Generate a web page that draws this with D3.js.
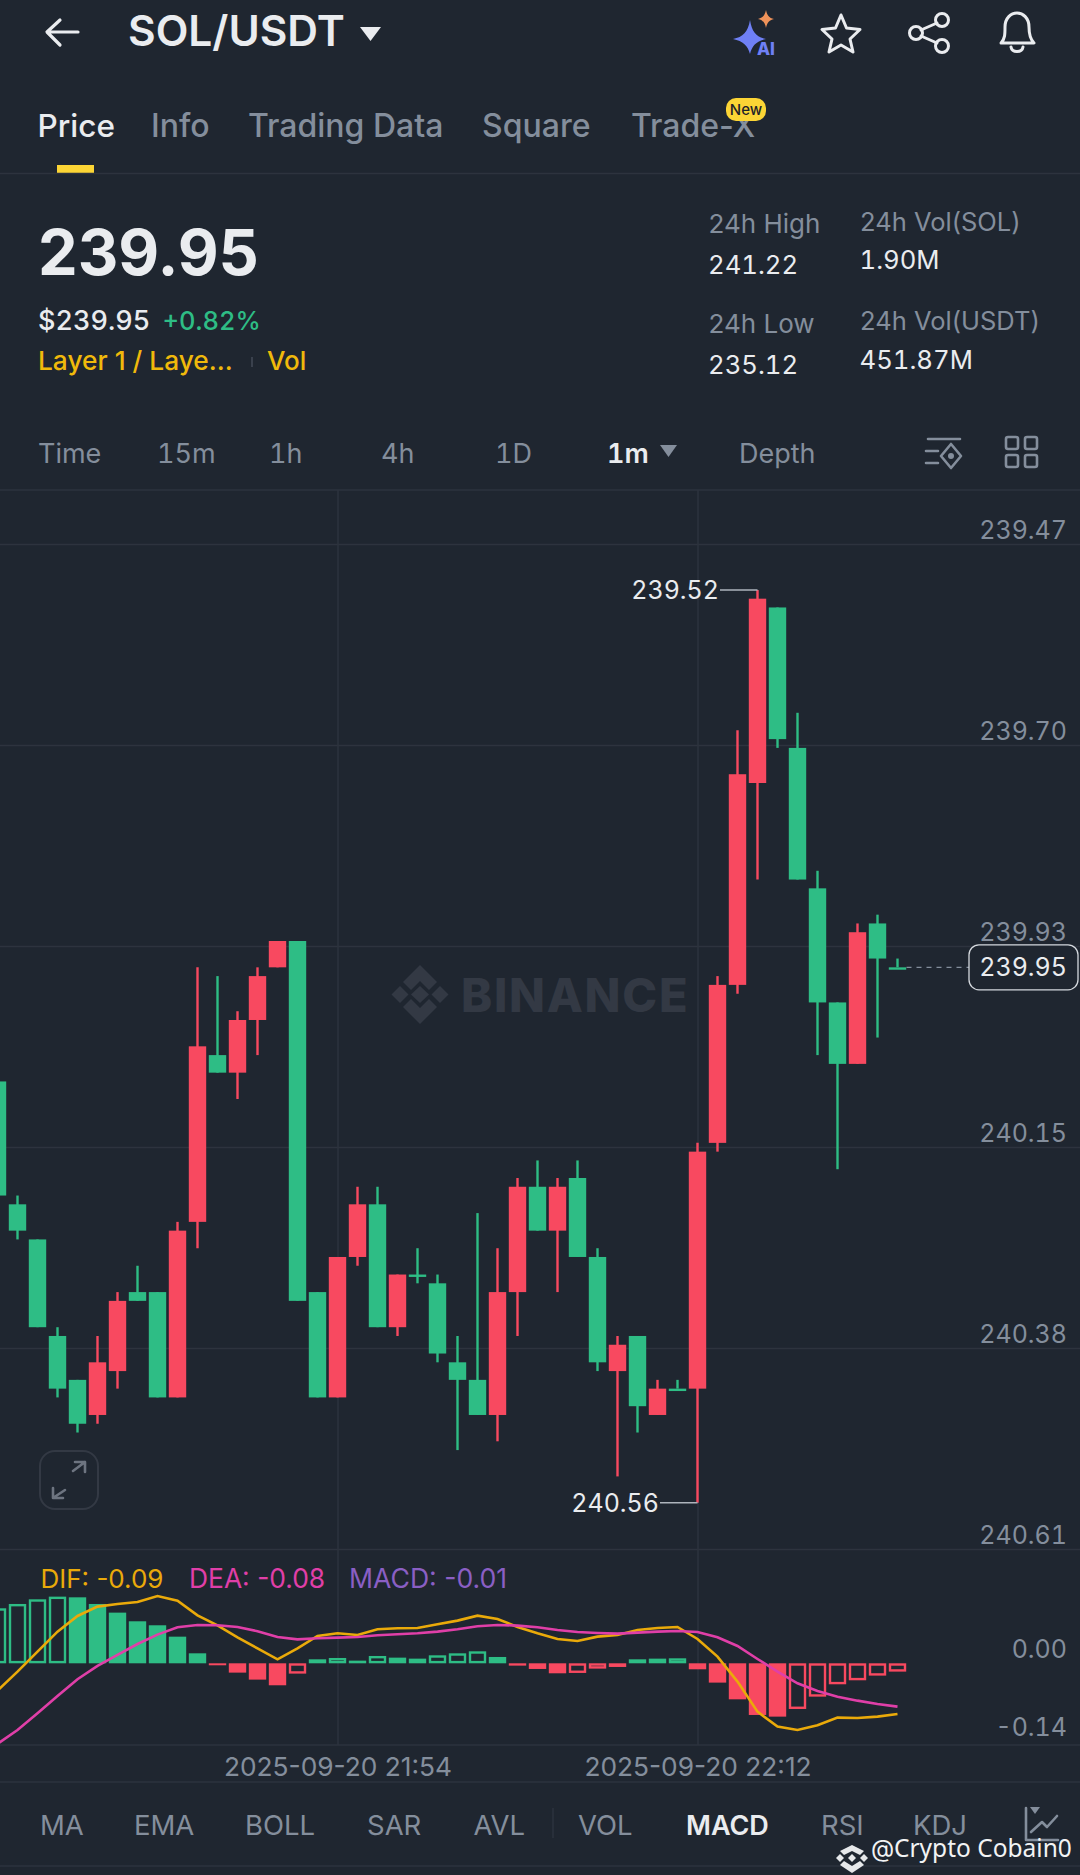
<!DOCTYPE html>
<html>
<head>
<meta charset="utf-8">
<script src="https://cdn.jsdelivr.net/npm/d3@7"></script>
<style>
  html, body { margin: 0; padding: 0; background: #1f2630; }
  svg { display: block; }
  text { font-family: Inter, "Noto Sans", sans-serif; }
  .num, .num text { font-variant-numeric: tabular-nums; }
</style>
</head>
<body>
<div id="chart"></div>
<script>
// one minute candles, 21:37 to 22:22. the price axis of this chart runs upside down
const opens = [240.08, 240.22, 240.26, 240.37, 240.42, 240.46, 240.41, 240.32, 240.32, 240.44, 240.24, 240.05,
  240.07, 240.01, 239.95, 239.92, 240.32, 240.44, 240.28, 240.22, 240.36, 240.30, 240.31, 240.40, 240.42, 240.46,
  240.32, 240.20, 240.25, 240.19, 240.28, 240.41, 240.37, 240.46, 240.43, 240.43, 240.15, 239.97, 239.74, 239.54,
  239.70, 239.86, 239.99, 240.06, 239.90, 239.95];
const closes = [240.21, 240.25, 240.36, 240.43, 240.47, 240.40, 240.33, 240.33, 240.44, 240.25, 240.04, 240.07,
  240.01, 239.96, 239.92, 240.33, 240.44, 240.28, 240.22, 240.36, 240.30, 240.30, 240.39, 240.42, 240.46, 240.32,
  240.20, 240.25, 240.20, 240.28, 240.40, 240.38, 240.45, 240.43, 240.43, 240.16, 239.97, 239.73, 239.53, 239.69,
  239.85, 239.99, 240.06, 239.91, 239.94, 239.95];
const lows = [240.08, 240.21, 240.26, 240.36, 240.42, 240.37, 240.32, 240.29, 240.32, 240.24, 239.95, 239.96,
  240.00, 239.95, 239.92, 239.92, 240.32, 240.28, 240.20, 240.20, 240.30, 240.27, 240.30, 240.37, 240.23, 240.27,
  240.19, 240.17, 240.19, 240.17, 240.27, 240.37, 240.37, 240.42, 240.42, 240.15, 239.96, 239.68, 239.52, 239.54,
  239.66, 239.84, 239.99, 239.90, 239.89, 239.94];
const highs = [240.21, 240.26, 240.36, 240.44, 240.48, 240.47, 240.43, 240.33, 240.44, 240.44, 240.27, 240.07,
  240.10, 240.05, 239.95, 240.33, 240.44, 240.44, 240.29, 240.36, 240.37, 240.31, 240.40, 240.50, 240.46, 240.49,
  240.37, 240.25, 240.32, 240.28, 240.41, 240.53, 240.48, 240.46, 240.43, 240.56, 240.16, 239.98, 239.85, 239.70,
  239.85, 240.05, 240.18, 240.06, 240.03, 239.95];

const macdHist = [0.0991, 0.1069, 0.1153, 0.1201, 0.1189, 0.1069, 0.0913, 0.0757, 0.0685, 0.0480, 0.0180, -0.0036,
  -0.0168, -0.0294, -0.0396, -0.0186, 0.0072, 0.0096, 0.0048, 0.0132, 0.0102, 0.0084, 0.0144, 0.0180, 0.0216, 0.0114,
  -0.0042, -0.0102, -0.0180, -0.0174, -0.0096, -0.0066, 0.0072, 0.0084, 0.0090, -0.0108, -0.0348, -0.0649, -0.0931,
  -0.0961, -0.0823, -0.0601, -0.0378, -0.0306, -0.0222, -0.0150];
const dif = [-0.0492, -0.0150, 0.0210, 0.0571, 0.0853, 0.1021, 0.1069, 0.1105, 0.1213, 0.1129, 0.0865, 0.0685, 0.0468,
  0.0270, 0.0072, 0.0270, 0.0492, 0.0541, 0.0511, 0.0613, 0.0631, 0.0637, 0.0703, 0.0769, 0.0859, 0.0799, 0.0655,
  0.0541, 0.0438, 0.0402, 0.0480, 0.0511, 0.0601, 0.0637, 0.0655, 0.0438, 0.0120, -0.0330, -0.0871, -0.1141, -0.1201,
  -0.1117, -0.0979, -0.0985, -0.0961, -0.0913];
const dea = [-0.1453, -0.1201, -0.0901, -0.0589, -0.0288, -0.0048, 0.0150, 0.0348, 0.0517, 0.0649, 0.0691, 0.0685,
  0.0655, 0.0577, 0.0474, 0.0432, 0.0450, 0.0462, 0.0474, 0.0505, 0.0523, 0.0541, 0.0571, 0.0613, 0.0667, 0.0691,
  0.0679, 0.0649, 0.0601, 0.0565, 0.0547, 0.0535, 0.0553, 0.0571, 0.0583, 0.0565, 0.0468, 0.0312, 0.0078, -0.0150,
  -0.0360, -0.0498, -0.0601, -0.0673, -0.0733, -0.0781];

const priceTicks = [239.4677, 239.6967, 239.9257, 240.1547, 240.3837, 240.6127];
const macdTicks = [0, -0.14];
const timeTicks = ["2025-09-20 21:54", "2025-09-20 22:12"];
const firstMinute = "2025-09-20 21:37";
const lastMinute = "2025-09-20 22:22";
const lastPrice = 239.95;

const tabs = ["Price", "Info", "Trading Data", "Square", "Trade-X"];
const intervals = ["Time", "15m", "1h", "4h", "1D", "1m", "Depth"];
const indicators = ["MA", "EMA", "BOLL", "SAR", "AVL", "VOL", "MACD", "RSI", "KDJ"];

const BG = "#1f2630", GRID = "#2d333e", GREEN = "#2ebd85", RED = "#f84960";
const YELLOW = "#f0b90b", GREY = "#848e9c", WHITE = "#eaecef";
const width = 1080, height = 1875;

const svg = d3.select("#chart").append("svg")
  .attr("width", width).attr("height", height)
  .attr("viewBox", `0 0 ${width} ${height}`);
svg.append("rect").attr("width", width).attr("height", height).attr("fill", BG);

function label(x, y, str, size, color, weight, anchor) {
  return svg.append("text").attr("x", x).attr("y", y)
    .attr("font-size", size).attr("fill", color)
    .attr("font-weight", weight || 400)
    .attr("text-anchor", anchor || "start")
    .text(str);
}
function icon(d, color, sw) {
  return svg.append("path").attr("d", d).attr("fill", "none")
    .attr("stroke", color).attr("stroke-width", sw || 3)
    .attr("stroke-linecap", "round").attr("stroke-linejoin", "round");
}
function hline(y) {
  svg.append("line").attr("x1", 0).attr("x2", width).attr("y1", y).attr("y2", y)
    .attr("stroke", GRID).attr("stroke-width", 1.5);
}

// scales
const parseTime = d3.timeParse("%Y-%m-%d %H:%M");
const x = d3.scaleTime().domain([parseTime(firstMinute), parseTime(lastMinute)]).range([-2.5, 897.5]);
const minute = i => d3.timeMinute.offset(parseTime(firstMinute), i);
const y = d3.scaleLinear().domain([239.4677, 240.6127]).range([544, 1549]);
const yMacd = d3.scaleLinear().domain([0, -0.14]).range([1663.3, 1741]);
const bodyW = 17.4;

// header
icon("M78 32H48M60 20L47 32L60 45", WHITE, 3.2);
label(128, 46, "SOL/USDT", 42.5, WHITE, 600);
svg.append("path").attr("d", "M360 27H381L370.5 41Z").attr("fill", WHITE);
svg.append("path").attr("d", "M750 20C752 32 756 37 766 39C756 41 752 46 750 54C748 46 743 41 733 39C743 37 748 32 750 20Z").attr("fill", "#6f80f5");
svg.append("path").attr("d", "M766 10C767 15 769 18 774 19C769 20 767 23 766 28C765 23 763 20 758 19C763 18 765 15 766 10Z").attr("fill", "#f0935a");
label(757, 55, "AI", 17, "#6f80f5", 800);
icon("M841 15L846.5 28L860 29.5L850 39L853 52L841 45L829 52L832 39L822 29.5L835.500 28Z", WHITE, 3);
svg.append("g").selectAll("circle").data([[942, 20], [916, 33], [942, 46]]).join("circle")
  .attr("cx", d => d[0]).attr("cy", d => d[1]).attr("r", 6.5)
  .attr("fill", "none").attr("stroke", WHITE).attr("stroke-width", 3);
icon("M921 30L937 23M921 36L937 43", WHITE, 3);
icon("M1001 43C1005 39 1005 34 1005 27C1005 18 1011 13 1017 13C1023 13 1029 18 1029 27C1029 34 1030 39 1034 43Z", WHITE, 3);
icon("M1011 47C1012 53 1022 53 1023 47", WHITE, 3);

// tabs
const tabX = [37.5, 151, 248, 482, 631];
tabs.forEach((t, i) => label(tabX[i], 137, t, i === 0 ? 31.5 : 32, i === 0 ? WHITE : GREY, 500));
svg.append("rect").attr("x", 57).attr("y", 165).attr("width", 37).attr("height", 8).attr("fill", "#fcd535");
hline(173.500);
svg.append("rect").attr("x", 726).attr("y", 98).attr("width", 40).attr("height", 23).attr("rx", 10).attr("fill", "#fcd535");
label(746, 115, "New", 15, "#1e2329", 500, "middle");

// price block
label(38, 275, "239.95", 63, WHITE, 700);
label(38, 330, "$239.95", 27, WHITE, 500).attr("class", "num");
label(162.5, 330, "+0.82%", 25.5, GREEN, 500).attr("class", "num");
label(38, 370, "Layer 1 / Laye...", 26.3, YELLOW, 500);
svg.append("rect").attr("x", 251).attr("y", 357).attr("width", 2).attr("height", 10).attr("fill", "#3a414d");
label(267, 370, "Vol", 26, YELLOW, 500);
label(708.5, 233, "24h High", 26, GREY);
label(708, 274, "241.22", 25.7, WHITE).attr("class", "num");
label(860, 231, "24h Vol(SOL)", 25.5, GREY);
label(859.5, 269, "1.90M", 25.7, WHITE).attr("class", "num");
label(708.5, 333, "24h Low", 26, GREY);
label(708, 374, "235.12", 25.7, WHITE).attr("class", "num");
label(860, 330, "24h Vol(USDT)", 25.5, GREY);
label(859.5, 369, "451.87M", 25.7, WHITE).attr("class", "num");

// interval row
const intervalX = [38, 157, 269, 381, 495, 607, 739];
intervals.forEach((t, i) => label(intervalX[i], 463, t, 27, t === "1m" ? WHITE : GREY, t === "1m" ? 600 : 400).attr("class", "num"));
svg.append("path").attr("d", "M660 445H677L668.500 457Z").attr("fill", GREY);
icon("M928 439H960M926 451H938M926 463H938", GREY, 2.6);
icon("M951 444L961 456L951 468L941 456Z", GREY, 2.6);
svg.append("circle").attr("cx", 951).attr("cy", 456).attr("r", 3).attr("fill", GREY);
svg.append("g").selectAll("rect").data([[1006, 437], [1025, 437], [1006, 455], [1025, 455]]).join("rect")
  .attr("x", d => d[0]).attr("y", d => d[1]).attr("width", 12).attr("height", 12).attr("rx", 2)
  .attr("fill", "none").attr("stroke", GREY).attr("stroke-width", 2.6);
hline(490);

// watermark under the grid
const wm = svg.append("g").attr("fill", "#333944");
[["M420 965L437 982L429 990L420 981L411 990L403 982Z"], ["M420 1024L403 1007L411 999L420 1008L429 999L437 1007Z"],
  ["M420 986L429 994.500L420 1003L411 994.500Z"], ["M400 986L408.500 994.500L400 1003L391.500 994.500Z"],
  ["M440 986L448.500 994.500L440 1003L431.500 994.500Z"]]
  .forEach(d => wm.append("path").attr("d", d[0]));
label(461, 1011.5, "BINANCE", 47, "#333944", 800).attr("letter-spacing", 1.7);

// grid and axes
const priceAxis = d3.axisLeft(y).tickValues(priceTicks).tickSize(width).tickPadding(0).tickFormat(d3.format(".2f"));
const gy = svg.append("g").attr("class", "num").attr("transform", `translate(${width},0)`).call(priceAxis);
gy.select(".domain").remove();
gy.selectAll("line").attr("stroke", GRID).attr("stroke-width", 1.5);
gy.selectAll("text").attr("x", -13).attr("dy", -6).attr("font-size", 25).attr("fill", GREY)
  .attr("text-anchor", "end").attr("font-family", "Inter");

const timeAxis = d3.axisBottom(x).tickValues(timeTicks.map(parseTime)).tickSize(-(1745 - 490)).tickPadding(0)
  .tickFormat(d3.timeFormat("%Y-%m-%d %H:%M"));
const gx = svg.append("g").attr("transform", "translate(0,1745)").call(timeAxis);
gx.select(".domain").remove();
gx.selectAll("line").attr("stroke", GRID).attr("stroke-width", 1.5);
gx.selectAll("text").attr("y", 31).attr("dy", 0).attr("font-size", 26.3).attr("fill", GREY).attr("font-family", "Inter");

hline(1745);
hline(1782);
hline(1866);

// candles
const candles = d3.range(opens.length).map(i => ({
  t: minute(i), open: opens[i], close: closes[i], low: lows[i], high: highs[i], hist: macdHist[i],
  prevHist: i ? macdHist[i - 1] : -1
}));
const candleColor = d => d.close >= d.open ? GREEN : RED;

svg.append("g").selectAll("line").data(candles).join("line")
  .attr("x1", d => x(d.t)).attr("x2", d => x(d.t))
  .attr("y1", d => y(d.low)).attr("y2", d => y(d.high))
  .attr("stroke", candleColor).attr("stroke-width", 2.4);
svg.append("g").selectAll("rect").data(candles).join("rect")
  .attr("x", d => x(d.t) - bodyW / 2).attr("width", bodyW)
  .attr("y", d => y(Math.min(d.open, d.close)))
  .attr("height", d => Math.max(2.4, Math.abs(y(d.open) - y(d.close))))
  .attr("fill", candleColor);

// min and max marks
const maxI = d3.minIndex(lows), minI = d3.maxIndex(highs);
[[lows[maxI], maxI], [highs[minI], minI]].forEach(([v, i]) => {
  const px = x(minute(i)), py = y(v);
  svg.append("line").attr("x1", px - 37.500).attr("x2", px).attr("y1", py).attr("y2", py)
    .attr("stroke", "#aeb4bc").attr("stroke-width", 1.5);
  label(px - 38.500, py + 9, d3.format(".2f")(v), 25, WHITE, 400, "end").attr("class", "num");
});

// last price
svg.append("line").attr("x1", x(minute(45)) + 9).attr("x2", 969).attr("y1", y(lastPrice)).attr("y2", y(lastPrice))
  .attr("stroke", GREY).attr("stroke-width", 1.3).attr("stroke-dasharray", "5 5");
svg.append("rect").attr("x", 969).attr("y", y(lastPrice) - 22.500).attr("width", 109).attr("height", 45).attr("rx", 10)
  .attr("fill", BG).attr("stroke", "#d4d8dd").attr("stroke-width", 1.3);
label(1067, y(lastPrice) + 9, d3.format(".2f")(lastPrice), 25, WHITE, 400, "end").attr("class", "num");

// expand button
svg.append("rect").attr("x", 40).attr("y", 1451).attr("width", 58).attr("height", 58).attr("rx", 15)
  .attr("fill", "none").attr("stroke", "#333944").attr("stroke-width", 2);
icon("M73 1471L85 1462M75 1462H85V1472M65 1490L53 1498M53 1488V1498H63", "#6d7480", 2.6);

// macd panel
const histRising = d => d.hist > d.prevHist;
const histColor = d => d.hist >= 0 ? GREEN : RED;
const sw = 2.4;
svg.append("g").selectAll("rect").data(candles).join("rect")
  .attr("x", d => x(d.t) - bodyW / 2 + (histRising(d) ? sw / 2 : 0))
  .attr("width", d => bodyW - (histRising(d) ? sw : 0))
  .attr("y", d => Math.min(yMacd(d.hist), yMacd(0)) + (histRising(d) ? sw / 2 : 0))
  .attr("height", d => Math.max(1, Math.abs(yMacd(d.hist) - yMacd(0)) - (histRising(d) ? sw : 0)))
  .attr("fill", d => histRising(d) ? "none" : histColor(d))
  .attr("stroke", d => histRising(d) ? histColor(d) : "none")
  .attr("stroke-width", sw);

const macdLine = d3.line().x((d, i) => x(minute(i))).y(d => yMacd(d));
svg.append("path").datum(dif).attr("d", macdLine).attr("fill", "none").attr("stroke", "#eaaa0a").attr("stroke-width", 2.6);
svg.append("path").datum(dea).attr("d", macdLine).attr("fill", "none").attr("stroke", "#e03fa8").attr("stroke-width", 2.6);

const macdAxis = d3.axisLeft(yMacd).tickValues(macdTicks).tickSize(0).tickPadding(0)
  .tickFormat(d => d3.format(".2f")(d).replace("−", "-"));
const gm = svg.append("g").attr("class", "num").attr("transform", `translate(${width},0)`).call(macdAxis);
gm.select(".domain").remove();
gm.selectAll("text").attr("x", -13).attr("dy", -6).attr("font-size", 25).attr("fill", GREY).attr("font-family", "Inter");

label(40.5, 1588, "DIF: -0.09", 26, "#eaaa0a");
label(189, 1588, "DEA: -0.08", 26.4, "#e03fa8");
label(349, 1588, "MACD: -0.01", 26.6, "#8a5fc4");

// bottom row
const indicatorX = [40, 134, 245, 367, 473.500, 578, 686, 821, 913];
indicators.forEach((t, i) => label(indicatorX[i], 1835, t, t === "MACD" ? 27 : 27.5, t === "MACD" ? WHITE : GREY, t === "MACD" ? 600 : 400));
svg.append("line").attr("x1", 553).attr("x2", 553).attr("y1", 1808).attr("y2", 1838).attr("stroke", GRID).attr("stroke-width", 1.5);
icon("M1026 1808V1840H1058M1031 1832L1042 1822L1047 1827L1057 1816", GREY, 2.6);
svg.append("path").attr("d", "M1030 1807H1040L1035 1814Z").attr("fill", GREY);

// post watermark
const pw = svg.append("g").attr("fill", "#e6e8ea");
["M852 1845L864 1851L860 1855L852 1851L844 1855L840 1851Z", "M852 1873L840 1865L844 1861L852 1866L860 1861L864 1865Z",
  "M852 1854L856 1858L852 1862L848 1858Z", "M840 1854L844 1858L840 1862L836 1858Z", "M864 1854L868 1858L864 1862L860 1858Z"]
  .forEach(d => pw.append("path").attr("d", d));
label(871, 1857, "@", 24, "#f2f3f4").attr("font-family", "Noto Sans");
label(894, 1857, "Crypto Cobain0", 24.5, "#f2f3f4").style("font-family", "'Noto Sans'");
</script>
</body>
</html>
